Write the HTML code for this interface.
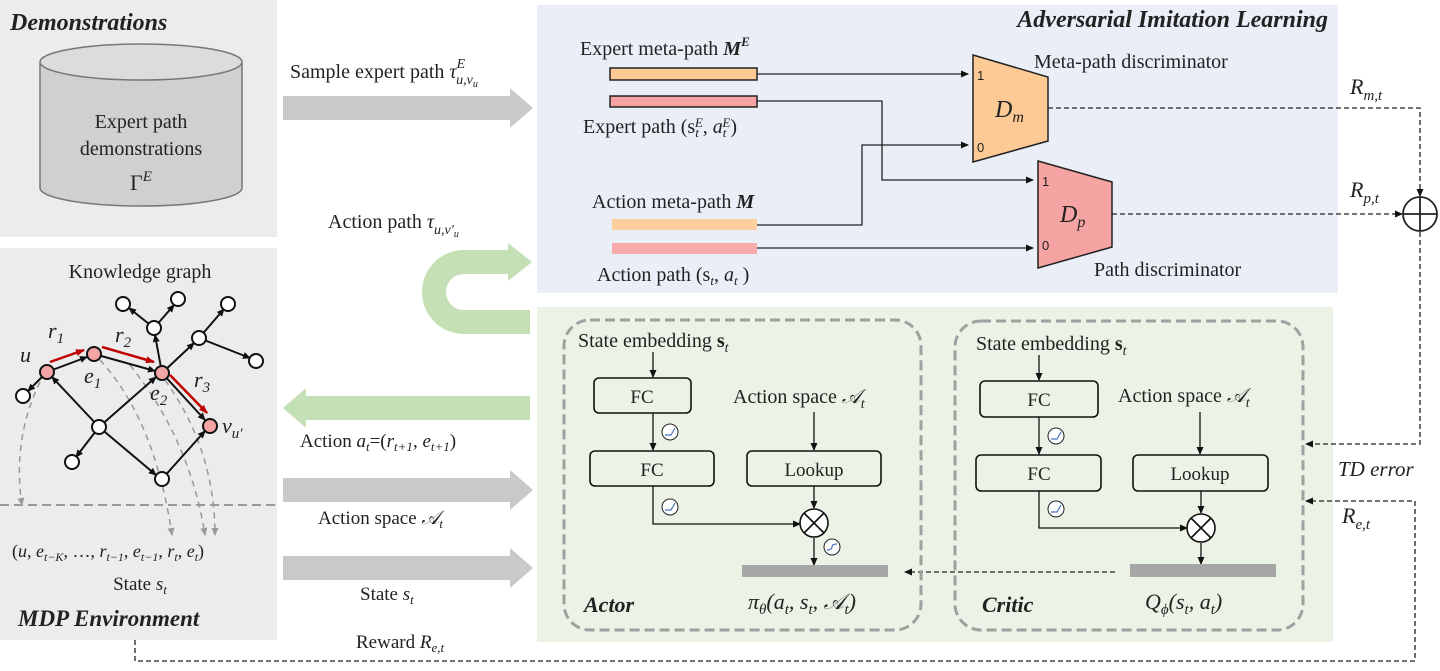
<!DOCTYPE html>
<html><head><meta charset="utf-8"><style>
body{margin:0;background:#fff}
svg{display:block}
text{font-family:"Liberation Serif",serif;fill:#222}
.s{font-family:"Liberation Sans",sans-serif}
.i{font-style:italic}
.b{font-weight:bold}
</style></head><body>
<svg width="1440" height="671" viewBox="0 0 1440 671" xmlns="http://www.w3.org/2000/svg">
<defs>
<marker id="a" markerWidth="8" markerHeight="8" refX="7" refY="4" orient="auto" markerUnits="userSpaceOnUse"><path d="M0,0.5 L8,4 L0,7.5z" fill="#111"/></marker>
<marker id="r" markerWidth="9" markerHeight="8" refX="8" refY="4" orient="auto" markerUnits="userSpaceOnUse"><path d="M0,0.5 L9,4 L0,7.5z" fill="#c00000"/></marker>
<marker id="g" markerWidth="8" markerHeight="8" refX="7" refY="4" orient="auto" markerUnits="userSpaceOnUse"><path d="M0,0.5 L8,4 L0,7.5z" fill="#999"/></marker>
</defs>
<rect x="0" y="0" width="277" height="237" fill="#ececec"/>
<rect x="0" y="248" width="277" height="392" fill="#ececec"/>
<rect x="537" y="5" width="801" height="288" fill="#e9eef7"/>
<rect x="537" y="307" width="796" height="335" fill="#ebf3e6"/>

<text x="10" y="30" font-size="24" class="b i">Demonstrations</text>
<path d="M40,62 L40,188 A101,18 0 0 0 242,188 L242,62" fill="#d0d0d0" stroke="#777" stroke-width="1.5"/>
<ellipse cx="141" cy="62" rx="101" ry="18" fill="#dcdcdc" stroke="#777" stroke-width="1.5"/>
<text x="141" y="128" font-size="20" text-anchor="middle" fill="#555">Expert path</text>
<text x="141" y="155" font-size="20" text-anchor="middle" fill="#555">demonstrations</text>
<text x="141" y="190" font-size="22" text-anchor="middle" fill="#555">Γ<tspan font-size="15" dy="-9" class="i">E</tspan></text>

<text x="140" y="278" font-size="20" text-anchor="middle" fill="#555">Knowledge graph</text>
<g stroke="#999" stroke-width="1.5" stroke-dasharray="6,5" fill="none">
<path d="M40,382 Q12,440 22,505" marker-end="url(#g)"/>
<path d="M100,360 Q155,420 172,535" marker-end="url(#g)"/>
<path d="M130,365 Q190,440 205,535" marker-end="url(#g)"/>
<path d="M165,380 Q215,450 215,535" marker-end="url(#g)"/>
</g>
<line x1="0" y1="505" x2="277" y2="505" stroke="#999" stroke-width="2" stroke-dasharray="9,5"/>
<g stroke="#111" stroke-width="2" fill="none">
<line x1="47" y1="372" x2="87" y2="357" marker-end="url(#a)"/>
<line x1="94" y1="354" x2="155" y2="371" marker-end="url(#a)"/>
<line x1="162" y1="373" x2="205" y2="420" marker-end="url(#a)"/>
<line x1="47" y1="372" x2="28" y2="391" marker-end="url(#a)"/>
<line x1="99" y1="427" x2="52" y2="377" marker-end="url(#a)"/>
<line x1="99" y1="427" x2="156" y2="377" marker-end="url(#a)"/>
<line x1="99" y1="427" x2="76" y2="457" marker-end="url(#a)"/>
<line x1="99" y1="427" x2="156" y2="475" marker-end="url(#a)"/>
<line x1="162" y1="479" x2="205" y2="431" marker-end="url(#a)"/>
<line x1="162" y1="373" x2="155" y2="335" marker-end="url(#a)"/>
<line x1="154" y1="328" x2="129" y2="308" marker-end="url(#a)"/>
<line x1="154" y1="328" x2="174" y2="305" marker-end="url(#a)"/>
<line x1="162" y1="373" x2="194" y2="343" marker-end="url(#a)"/>
<line x1="199" y1="338" x2="224" y2="309" marker-end="url(#a)"/>
<line x1="199" y1="338" x2="250" y2="358" marker-end="url(#a)"/>
</g>
<g stroke="#c00000" stroke-width="2.5" fill="none">
<line x1="50" y1="362" x2="84" y2="350" marker-end="url(#r)"/>
<line x1="102" y1="347" x2="154" y2="362" marker-end="url(#r)"/>
<line x1="170" y1="375" x2="207" y2="413" marker-end="url(#r)"/>
</g>
<g stroke="#111" stroke-width="2">
<circle cx="23" cy="396" r="7" fill="#fff"/><circle cx="123" cy="304" r="7" fill="#fff"/>
<circle cx="178" cy="299" r="7" fill="#fff"/><circle cx="154" cy="328" r="7" fill="#fff"/>
<circle cx="228" cy="304" r="7" fill="#fff"/><circle cx="199" cy="338" r="7" fill="#fff"/>
<circle cx="256" cy="361" r="7" fill="#fff"/><circle cx="99" cy="427" r="7" fill="#fff"/>
<circle cx="72" cy="462" r="7" fill="#fff"/><circle cx="162" cy="479" r="7" fill="#fff"/>
<circle cx="47" cy="372" r="7" fill="#f4a6a6"/><circle cx="94" cy="354" r="7" fill="#f4a6a6"/>
<circle cx="162" cy="373" r="7" fill="#f4a6a6"/><circle cx="210" cy="426" r="7" fill="#f4a6a6"/>
</g>
<g font-size="22" class="i" fill="#c00000">
<text x="20" y="362" fill="#c00000">u</text>
<text x="48" y="338" fill="#c00000">r<tspan font-size="15" dy="5">1</tspan></text>
<text x="115" y="342" fill="#c00000">r<tspan font-size="15" dy="5">2</tspan></text>
<text x="84" y="383" fill="#c00000">e<tspan font-size="15" dy="5">1</tspan></text>
<text x="150" y="400" fill="#c00000">e<tspan font-size="15" dy="5">2</tspan></text>
<text x="194" y="387" fill="#c00000">r<tspan font-size="15" dy="5">3</tspan></text>
<text x="222" y="433" fill="#c00000">v<tspan font-size="15" dy="5">u′</tspan></text>
</g>
<text x="12" y="557" font-size="18" fill="#333">(<tspan class="i">u</tspan>, <tspan class="i">e</tspan><tspan font-size="12" dy="4" class="i">t−K</tspan><tspan dy="-4">, …, </tspan><tspan class="i">r</tspan><tspan font-size="12" dy="4" class="i">t−1</tspan><tspan dy="-4">, </tspan><tspan class="i">e</tspan><tspan font-size="12" dy="4" class="i">t−1</tspan><tspan dy="-4">, </tspan><tspan class="i">r</tspan><tspan font-size="12" dy="4" class="i">t</tspan><tspan dy="-4">, </tspan><tspan class="i">e</tspan><tspan font-size="12" dy="4" class="i">t</tspan><tspan dy="-4">)</tspan></text>
<text x="140" y="590" font-size="19" text-anchor="middle" fill="#333">State <tspan class="i">s</tspan><tspan font-size="13" dy="4" class="i">t</tspan></text>
<text x="18" y="626" font-size="23" class="b i">MDP Environment</text>

<g fill="#c9c9c9">
<path d="M283,96 L510,96 L510,88 L533,108 L510,128 L510,120 L283,120z"/>
<path d="M283,478 L510,478 L510,470 L533,490 L510,510 L510,502 L283,502z"/>
<path d="M283,556 L510,556 L510,548 L533,568 L510,588 L510,580 L283,580z"/>
</g>
<path d="M530,396 L306,396 L306,388 L283,408 L306,428 L306,420 L530,420z" fill="#c5e0b4"/>
<path d="M530,322 L464,322 A30,30 0 0 1 464,262 L510,262" fill="none" stroke="#c5e0b4" stroke-width="24"/>
<path d="M508,243 L532,262 L508,281z" fill="#c5e0b4"/>
<text x="290" y="78" font-size="20">Sample expert path <tspan class="i">τ</tspan><tspan font-size="14" class="i" dy="-10">E</tspan><tspan font-size="14" class="i" dy="16" dx="-9">u,v</tspan><tspan font-size="10" class="i" dy="3">u</tspan></text>
<text x="328" y="228" font-size="20">Action path <tspan class="i">τ</tspan><tspan font-size="14" class="i" dy="6">u,v′</tspan><tspan font-size="10" class="i" dy="3">u</tspan></text>
<text x="300" y="447" font-size="19">Action <tspan class="i">a</tspan><tspan font-size="13" dy="4" class="i">t</tspan><tspan dy="-4">=(</tspan><tspan class="i">r</tspan><tspan font-size="13" dy="4" class="i">t+1</tspan><tspan dy="-4">, </tspan><tspan class="i">e</tspan><tspan font-size="13" dy="4" class="i">t+1</tspan><tspan dy="-4">)</tspan></text>
<text x="318" y="524" font-size="19">Action space <tspan class="i">𝒜</tspan><tspan font-size="13" dy="4" class="i">t</tspan></text>
<text x="360" y="600" font-size="19">State <tspan class="i">s</tspan><tspan font-size="13" dy="4" class="i">t</tspan></text>
<text x="356" y="648" font-size="19">Reward <tspan class="i">R</tspan><tspan font-size="13" dy="4" class="i">e,t</tspan></text>

<text x="1328" y="27" font-size="24" class="b i" text-anchor="end">Adversarial Imitation Learning</text>
<text x="580" y="55" font-size="20" fill="#333">Expert meta-path <tspan class="b i">M</tspan><tspan font-size="13" dy="-9" class="b i">E</tspan></text>
<rect x="610" y="68" width="147" height="12" fill="#fdca95" stroke="#222" stroke-width="1.5"/>
<rect x="610" y="96" width="147" height="11" fill="#f6a3a3" stroke="#222" stroke-width="1.5"/>
<text x="583" y="133" font-size="20" fill="#333">Expert path (s<tspan font-size="13" dy="4" class="i">t</tspan><tspan font-size="13" dy="-10" dx="-4" class="i">E</tspan><tspan dy="6">, </tspan><tspan class="i">a</tspan><tspan font-size="13" dy="4" class="i">t</tspan><tspan font-size="13" dy="-10" dx="-4" class="i">E</tspan><tspan dy="6">)</tspan></text>
<text x="592" y="208" font-size="20" fill="#333">Action meta-path <tspan class="b i">M</tspan></text>
<rect x="612" y="219" width="145" height="11" fill="#fdcf9f"/>
<rect x="612" y="243" width="145" height="11" fill="#f9aaaa"/>
<text x="597" y="281" font-size="20" fill="#333">Action path (s<tspan font-size="13" dy="4" class="i">t</tspan><tspan dy="-4">, </tspan><tspan class="i">a</tspan><tspan font-size="13" dy="4" class="i">t</tspan><tspan dy="-4"> )</tspan></text>
<g stroke="#222" stroke-width="1.3" fill="none">
<line x1="757" y1="74" x2="968" y2="74" marker-end="url(#a)"/>
<polyline points="757,101 882,101 882,180 1033,180" marker-end="url(#a)"/>
<polyline points="757,225 862,225 862,145 968,145" marker-end="url(#a)"/>
<line x1="757" y1="248" x2="1033" y2="248" marker-end="url(#a)"/>
</g>
<path d="M973,55 L1048,77 L1048,141 L973,162z" fill="#fdca95" stroke="#222" stroke-width="1.5"/>
<path d="M1038,161 L1112,182 L1112,247 L1038,268z" fill="#f6a3a3" stroke="#222" stroke-width="1.5"/>
<text x="977" y="80" font-size="13" class="s">1</text><text x="977" y="152" font-size="13" class="s">0</text>
<text x="1042" y="186" font-size="13" class="s">1</text><text x="1042" y="250" font-size="13" class="s">0</text>
<text x="995" y="117" font-size="24" class="i">D<tspan font-size="16" dy="5">m</tspan></text>
<text x="1060" y="222" font-size="24" class="i">D<tspan font-size="16" dy="5">p</tspan></text>
<text x="1034" y="68" font-size="20" fill="#333">Meta-path discriminator</text>
<text x="1094" y="276" font-size="20" fill="#333">Path discriminator</text>
<text x="1350" y="94" font-size="22" class="i">R<tspan font-size="15" dy="6">m,t</tspan></text>
<text x="1350" y="197" font-size="22" class="i">R<tspan font-size="15" dy="6">p,t</tspan></text>
<g stroke="#222" stroke-width="1.3" fill="none" stroke-dasharray="5,3">
<polyline points="1048,108 1420,108 1420,196" marker-end="url(#a)"/>
<line x1="1112" y1="214" x2="1402" y2="214" marker-end="url(#a)"/>
<polyline points="1420,232 1420,444 1306,444" marker-end="url(#a)"/>
<polyline points="135,640 135,661 1415,661 1415,501 1306,501" marker-end="url(#a)"/>
<line x1="1115" y1="572" x2="905" y2="572" marker-end="url(#a)"/>
</g>
<circle cx="1420" cy="214" r="17" fill="#fff" stroke="#222" stroke-width="1.8"/>
<path d="M1403,214 H1437 M1420,197 V231" stroke="#222" stroke-width="1.8"/>
<text x="1338" y="476" font-size="21" class="i">TD error</text>
<text x="1342" y="523" font-size="22" class="i">R<tspan font-size="15" dy="6">e,t</tspan></text>

<rect x="564" y="320" width="357" height="310" rx="26" fill="none" stroke="#a0a0a0" stroke-width="3" stroke-dasharray="10,5"/>
<rect x="955" y="321" width="348" height="309" rx="26" fill="none" stroke="#a0a0a0" stroke-width="3" stroke-dasharray="10,5"/>
<g font-size="20" fill="#333">
<text x="578" y="347">State embedding <tspan class="b">s</tspan><tspan font-size="14" dy="5" class="i">t</tspan></text>
<text x="733" y="403">Action space <tspan class="i">𝒜</tspan><tspan font-size="14" dy="5" class="i">t</tspan></text>
<text x="976" y="350">State embedding <tspan class="b">s</tspan><tspan font-size="14" dy="5" class="i">t</tspan></text>
<text x="1118" y="402">Action space <tspan class="i">𝒜</tspan><tspan font-size="14" dy="5" class="i">t</tspan></text>
</g>
<g fill="none" stroke="#111" stroke-width="1.6">
<rect x="594" y="378" width="97" height="35" rx="5"/>
<rect x="590" y="451" width="124" height="35" rx="5"/>
<rect x="747" y="451" width="134" height="35" rx="5"/>
<rect x="980" y="381" width="118" height="36" rx="5"/>
<rect x="976" y="455" width="125" height="36" rx="5"/>
<rect x="1133" y="455" width="135" height="36" rx="5"/>
</g>
<g font-size="19" class="s" text-anchor="middle" fill="#222">
<text x="642" y="403">FC</text><text x="652" y="476">FC</text><text x="814" y="476">Lookup</text>
<text x="1039" y="406">FC</text><text x="1039" y="480">FC</text><text x="1200" y="480">Lookup</text>
</g>
<g stroke="#111" stroke-width="1.3" fill="none">
<line x1="653" y1="352" x2="653" y2="377" marker-end="url(#a)"/>
<line x1="653" y1="413" x2="653" y2="450" marker-end="url(#a)"/>
<polyline points="653,486 653,524 800,524" marker-end="url(#a)"/>
<line x1="814" y1="412" x2="814" y2="450" marker-end="url(#a)"/>
<line x1="814" y1="486" x2="814" y2="508" marker-end="url(#a)"/>
<line x1="814" y1="538" x2="814" y2="565" marker-end="url(#a)"/>
<line x1="1039" y1="355" x2="1039" y2="380" marker-end="url(#a)"/>
<line x1="1039" y1="417" x2="1039" y2="454" marker-end="url(#a)"/>
<polyline points="1039,491 1039,528 1187,528" marker-end="url(#a)"/>
<line x1="1200" y1="412" x2="1200" y2="454" marker-end="url(#a)"/>
<line x1="1201" y1="491" x2="1201" y2="513" marker-end="url(#a)"/>
<line x1="1201" y1="543" x2="1201" y2="564" marker-end="url(#a)"/>
</g>
<g stroke="#111" stroke-width="1.6" fill="#fff">
<circle cx="814" cy="523" r="14"/><circle cx="1201" cy="528" r="14"/>
</g>
<path d="M804,513 L824,533 M824,513 L804,533 M1191,518 L1211,538 M1211,518 L1191,538" stroke="#111" stroke-width="1.6"/>
<g stroke="#222" stroke-width="1" fill="#fff">
<circle cx="670" cy="432" r="8"/><circle cx="670" cy="507" r="8"/><circle cx="1056" cy="436" r="8"/><circle cx="1056" cy="509" r="8"/><circle cx="832" cy="547" r="8"/>
</g>
<g stroke="#4a72c0" stroke-width="1.2" fill="none">
<path d="M665,435 H671 L675,428"/><path d="M665,510 H671 L675,503"/><path d="M1051,439 H1057 L1061,432"/><path d="M1051,512 H1057 L1061,505"/><path d="M827,550 Q832,550 832,547 Q832,544 837,544"/>
</g>
<rect x="742" y="565" width="146" height="12" fill="#a6a6a6"/>
<rect x="1130" y="564" width="146" height="13" fill="#a6a6a6"/>
<text x="584" y="612" font-size="22" class="b i">Actor</text>
<text x="982" y="612" font-size="22" class="b i">Critic</text>
<text x="748" y="609" font-size="22" class="i">π<tspan font-size="15" dy="5">θ</tspan><tspan dy="-5">(</tspan>a<tspan font-size="15" dy="5">t</tspan><tspan dy="-5">, s</tspan><tspan font-size="15" dy="5">t</tspan><tspan dy="-5">, 𝒜</tspan><tspan font-size="15" dy="5">t</tspan><tspan dy="-5">)</tspan></text>
<text x="1145" y="609" font-size="22" class="i">Q<tspan font-size="15" dy="5">ϕ</tspan><tspan dy="-5">(s</tspan><tspan font-size="15" dy="5">t</tspan><tspan dy="-5">, a</tspan><tspan font-size="15" dy="5">t</tspan><tspan dy="-5">)</tspan></text>
</svg>
</body></html>
